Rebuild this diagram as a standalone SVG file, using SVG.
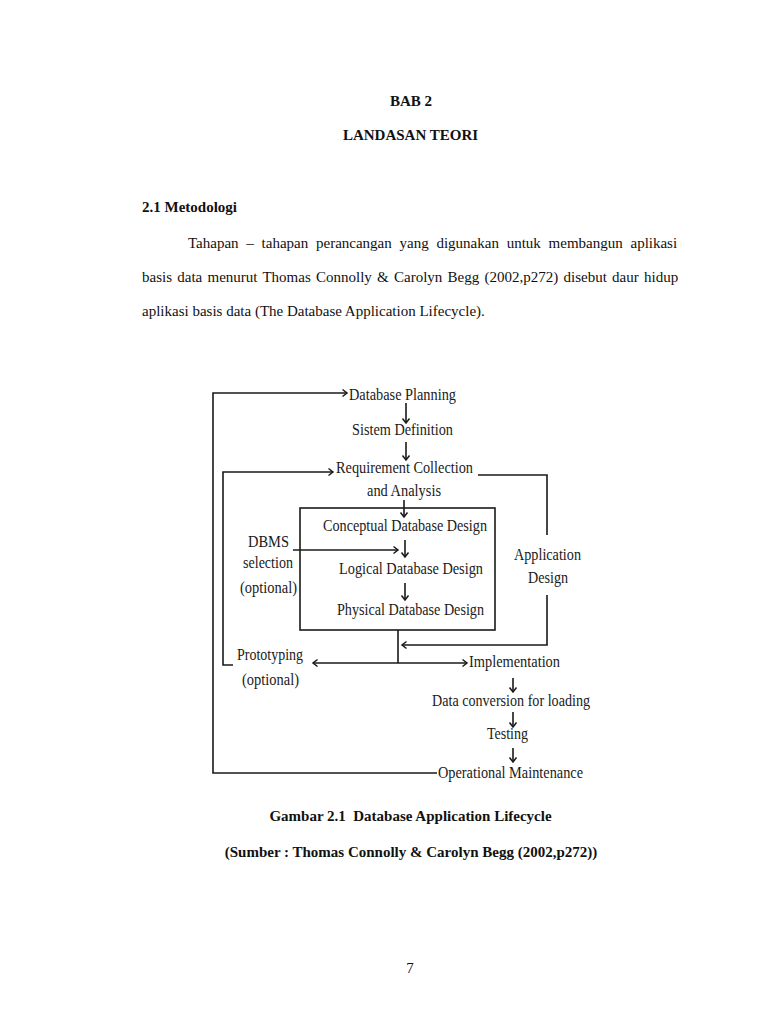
<svg xmlns="http://www.w3.org/2000/svg" width="768" height="1024" viewBox="0 0 768 1024">
<style>
.pg{font-family:"Liberation Serif","Times New Roman",serif;font-size:15px;fill:#111}
.b{font-weight:bold}
.d{font-family:"Liberation Serif","Times New Roman",serif;font-size:17.5px;fill:#1a1a1a}
.ln{fill:none;stroke:#1a1a1a;stroke-width:1.6}
.ar{marker-end:url(#ah)}
</style>
<defs>
<marker id="ah" markerUnits="userSpaceOnUse" markerWidth="10" markerHeight="10" viewBox="-6 -5 10 10" refX="0" refY="0" orient="auto">
<path d="M-4.5,-3.5 L0,0 L-4.5,3.5" fill="none" stroke="#1a1a1a" stroke-width="1.5"/>
</marker>
</defs>
<rect width="768" height="1024" fill="#fff"/>

<g id="page-text">
<text class="pg b" x="411" y="106" text-anchor="middle">BAB 2</text>
<text class="pg b" x="410.5" y="140" text-anchor="middle">LANDASAN TEORI</text>
<text class="pg b" x="142" y="212">2.1 Metodologi</text>
<text class="pg" x="188" y="248" word-spacing="4">Tahapan – tahapan perancangan yang digunakan untuk membangun aplikasi</text>
<text class="pg" x="142" y="282" word-spacing="1.5">basis data menurut Thomas Connolly &amp; Carolyn Begg (2002,p272) disebut daur hidup</text>
<text class="pg" x="142" y="316">aplikasi basis data (The Database Application Lifecycle).</text>
<text class="pg b" x="410.5" y="821" text-anchor="middle">Gambar 2.1&#160; Database Application Lifecycle</text>
<text class="pg b" x="411" y="857" text-anchor="middle">(Sumber : Thomas Connolly &amp; Carolyn Begg (2002,p272))</text>
<text class="pg" x="410" y="973" text-anchor="middle">7</text>
</g>

<g id="connectors">
<rect id="design-box" class="ln" x="300" y="508" width="195" height="122"/>
<path class="ln ar" d="M437,773 H213 V393 H347"/>
<path class="ln ar" d="M233,665 H223 V472 H333"/>
<path class="ln" d="M478,475 H547 V535"/>
<path class="ln ar" d="M547,595 V645 H402"/>
<path class="ln" d="M398,630 V663"/>
<path class="ln ar" d="M398,663 H313"/>
<path class="ln ar" d="M398,663 H467"/>
<path class="ln ar" d="M293,550 H398"/>
<path class="ln ar" d="M406,403 V423"/>
<path class="ln ar" d="M406,442 V460"/>
<path class="ln ar" d="M404,500 V517"/>
<path class="ln ar" d="M405,540 V557"/>
<path class="ln ar" d="M405,583 V600"/>
<path class="ln ar" d="M513,678 V692"/>
<path class="ln ar" d="M513,712 V727"/>
<path class="ln ar" d="M513,748 V762"/>
</g>

<g id="database-planning"><text class="d" x="349" y="400" textLength="107" lengthAdjust="spacingAndGlyphs">Database Planning</text></g>
<g id="sistem-definition"><text class="d" x="352" y="435" textLength="101" lengthAdjust="spacingAndGlyphs">Sistem Definition</text></g>
<g id="requirement-collection">
<text class="d" x="336" y="473" textLength="137" lengthAdjust="spacingAndGlyphs">Requirement Collection</text>
<text class="d" x="367" y="496" textLength="74" lengthAdjust="spacingAndGlyphs">and Analysis</text>
</g>
<g id="conceptual-design"><text class="d" x="323" y="531" textLength="164" lengthAdjust="spacingAndGlyphs">Conceptual Database Design</text></g>
<g id="logical-design"><text class="d" x="339" y="574" textLength="144" lengthAdjust="spacingAndGlyphs">Logical Database Design</text></g>
<g id="physical-design"><text class="d" x="337" y="615" textLength="147" lengthAdjust="spacingAndGlyphs">Physical Database Design</text></g>
<g id="dbms-selection">
<text class="d" x="248" y="547" textLength="41" lengthAdjust="spacingAndGlyphs">DBMS</text>
<text class="d" x="243" y="568" textLength="50" lengthAdjust="spacingAndGlyphs">selection</text>
<text class="d" x="240" y="593" textLength="57" lengthAdjust="spacingAndGlyphs">(optional)</text>
</g>
<g id="application-design">
<text class="d" x="514" y="560" textLength="67" lengthAdjust="spacingAndGlyphs">Application</text>
<text class="d" x="528" y="583" textLength="40" lengthAdjust="spacingAndGlyphs">Design</text>
</g>
<g id="prototyping">
<text class="d" x="237" y="660" textLength="66" lengthAdjust="spacingAndGlyphs">Prototyping</text>
<text class="d" x="242" y="685" textLength="57" lengthAdjust="spacingAndGlyphs">(optional)</text>
</g>
<g id="implementation"><text class="d" x="469" y="667" textLength="91" lengthAdjust="spacingAndGlyphs">Implementation</text></g>
<g id="data-conversion"><text class="d" x="432" y="706" textLength="158" lengthAdjust="spacingAndGlyphs">Data conversion for loading</text></g>
<g id="testing"><text class="d" x="487" y="739" textLength="41" lengthAdjust="spacingAndGlyphs">Testing</text></g>
<g id="operational-maintenance"><text class="d" x="438" y="778" textLength="145" lengthAdjust="spacingAndGlyphs">Operational Maintenance</text></g>
</svg>
